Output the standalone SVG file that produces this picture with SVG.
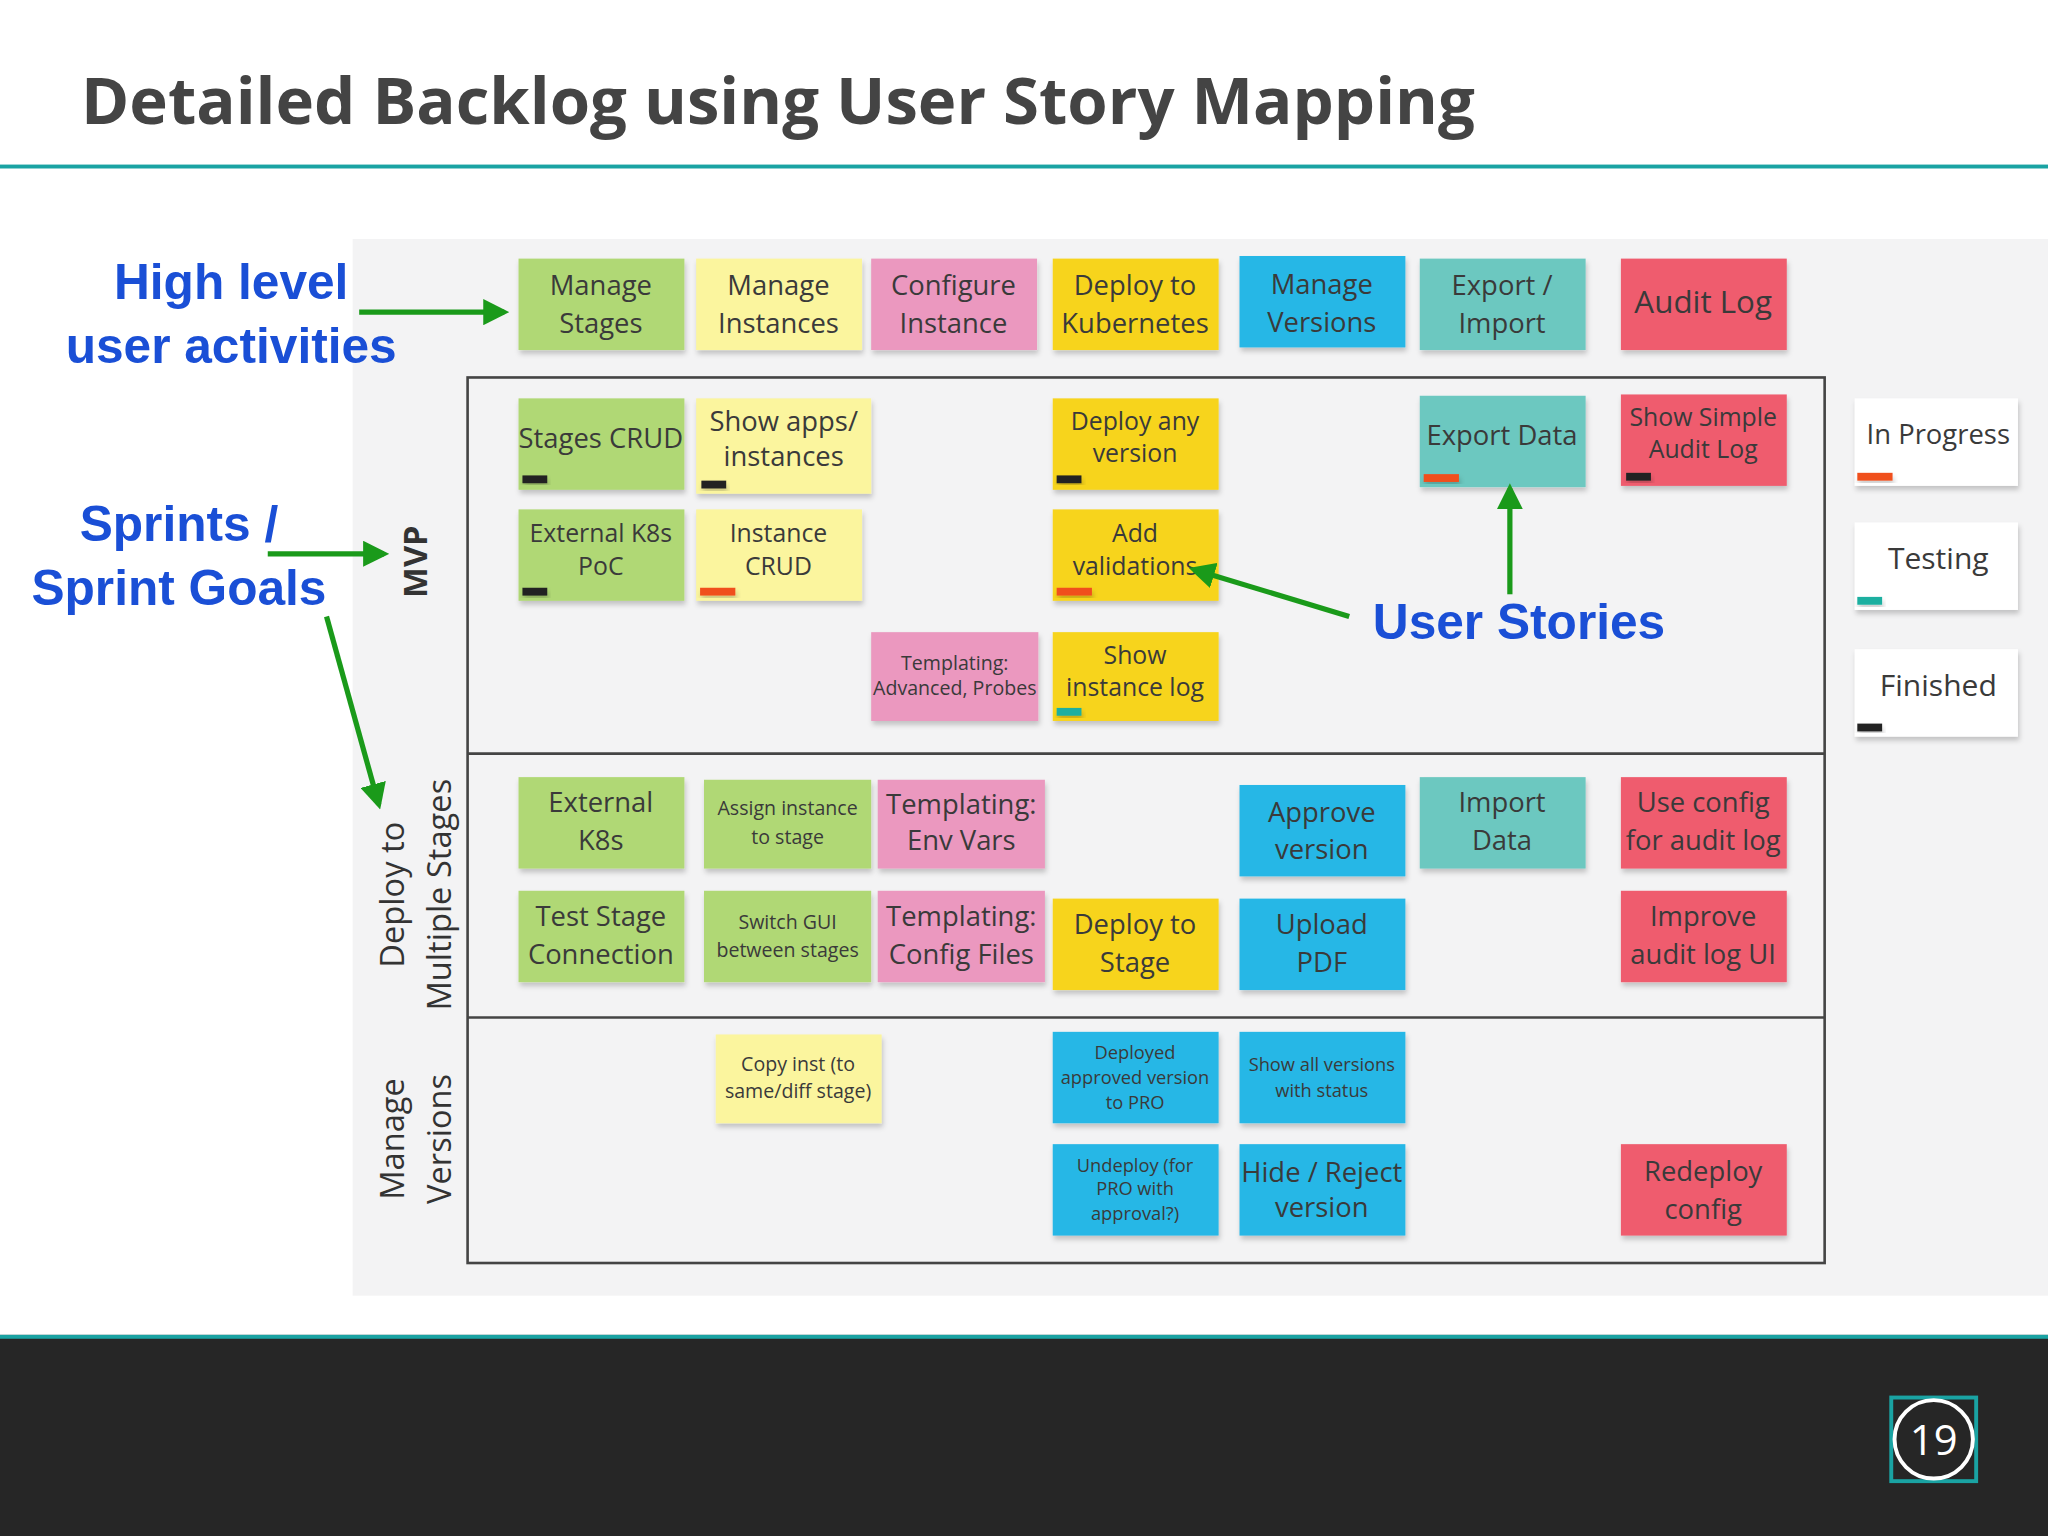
<svg xmlns="http://www.w3.org/2000/svg" width="2048" height="1536" viewBox="0 0 2048 1536">
<style>
.n text{font-family:"Open Sans","Noto Sans",sans-serif;font-size:21px;fill:#3a3a3a;text-anchor:middle}
.n text.s{font-size:15px}
.n rect{filter:url(#sh)}
.g{fill:#b0d874}.ly{fill:#fbf59e}.p{fill:#eb98bf}.y{fill:#f7d41a}.b{fill:#27b7e6}.t{fill:#6cc8c0}.r{fill:#ef5c6e}.w{fill:#fff}
.ann{font-family:"Liberation Sans",Arial,sans-serif;font-weight:bold;font-size:38px;fill:#1a4fd6;text-anchor:middle}
.lane{font-family:"Open Sans","Noto Sans",sans-serif;font-size:25px;fill:#333;text-anchor:middle}
.arr{stroke:#1a9a1a;stroke-width:4;fill:none;marker-end:url(#ah)}
</style>
<defs>
<filter id="sh" x="-10%" y="-10%" width="125%" height="130%"><feDropShadow dx="1" dy="3" stdDeviation="2" flood-color="#000" flood-opacity="0.2"/></filter>
<marker id="ah" viewBox="0 0 10 10" refX="8" refY="5" markerWidth="5" markerHeight="5" orient="auto"><path d="M0,0L10,5L0,10z" fill="#1a9a1a"/></marker>
</defs>
<rect width="2048" height="1536" fill="#fff"/>
<g transform="scale(1.30612)">
<text x="62" y="95" font-family="'Open Sans','Noto Sans',sans-serif" font-weight="bold" font-size="50" fill="#444">Detailed Backlog using User Story Mapping</text>
<rect x="0" y="126" width="1568" height="3" fill="#1aa3a3"/>
<rect x="270" y="183" width="1298" height="809" fill="#f3f3f4"/>
<rect x="0" y="1022" width="1568" height="154" fill="#262626"/>
<rect x="0" y="1022" width="1568" height="3" fill="#1aa3a3"/>
<rect x="1448" y="1070" width="65" height="64" fill="none" stroke="#1aa3a3" stroke-width="3"/>
<circle cx="1480.5" cy="1102" r="30" fill="none" stroke="#fff" stroke-width="3"/>
<text x="1480.5" y="1114" font-family="'Open Sans',sans-serif" font-size="32" fill="#fff" text-anchor="middle">19</text>

<g id="frame" fill="none" stroke="#444" stroke-width="2">
<rect x="358" y="289" width="1039" height="678"/>
<line x1="358" y1="577" x2="1397" y2="577"/>
<line x1="358" y1="779" x2="1397" y2="779"/>
</g>
<text class="lane" transform="translate(327,430) rotate(-90)" font-weight="bold" font-size="26">MVP</text>
<text class="lane" transform="translate(309,685) rotate(-90)">Deploy to</text>
<text class="lane" transform="translate(345,685) rotate(-90)">Multiple Stages</text>
<text class="lane" transform="translate(309,872) rotate(-90)">Manage</text>
<text class="lane" transform="translate(345,872) rotate(-90)">Versions</text>

<g class="n">
<g id="a1"><rect class="g" x="397" y="198" width="127" height="70"/><text x="460" y="226">Manage</text><text x="460" y="255">Stages</text></g>
<g id="a2"><rect class="ly" x="533" y="198" width="127" height="70"/><text x="596" y="226">Manage</text><text x="596" y="255">Instances</text></g>
<g id="a3"><rect class="p" x="667" y="198" width="127" height="70"/><text x="730" y="226">Configure</text><text x="730" y="255">Instance</text></g>
<g id="a4"><rect class="y" x="806" y="198" width="127" height="70"/><text x="869" y="226">Deploy to</text><text x="869" y="255">Kubernetes</text></g>
<g id="a5"><rect class="b" x="949" y="196" width="127" height="70"/><text x="1012" y="225">Manage</text><text x="1012" y="254">Versions</text></g>
<g id="a6"><rect class="t" x="1087" y="198" width="127" height="70"/><text x="1150" y="226">Export /</text><text x="1150" y="255">Import</text></g>
<g id="a7"><rect class="r" x="1241" y="198" width="127" height="70"/><text x="1304" y="240" style="font-size:24px">Audit Log</text></g>

<g id="m1"><rect class="g" x="397" y="305" width="127" height="70"/><text x="460" y="343">Stages CRUD</text><rect x="400" y="364" width="19" height="6" fill="#222"/></g>
<g id="m2"><rect class="ly" x="533" y="305" width="134" height="73"/><text x="600" y="330">Show apps/</text><text x="600" y="357">instances</text><rect x="537" y="368" width="19" height="6" fill="#222"/></g>
<g id="m3"><rect class="y" x="806" y="305" width="127" height="70"/><text x="869" y="329" style="font-size:19px">Deploy any</text><text x="869" y="354" style="font-size:19px">version</text><rect x="809" y="364" width="19" height="6" fill="#222"/></g>
<g id="m4"><rect class="t" x="1087" y="303" width="127" height="70"/><text x="1150" y="341">Export Data</text><rect x="1090" y="363" width="27" height="6" fill="#f0501e"/></g>
<g id="m5"><rect class="r" x="1241" y="302" width="127" height="70"/><text x="1304" y="326" style="font-size:19px">Show Simple</text><text x="1304" y="351" style="font-size:19px">Audit Log</text><rect x="1245" y="362" width="19" height="6" fill="#222"/></g>
<g id="m6"><rect class="g" x="397" y="390" width="127" height="70"/><text x="460" y="415" style="font-size:19px">External K8s</text><text x="460" y="440" style="font-size:19px">PoC</text><rect x="400" y="450" width="19" height="6" fill="#222"/></g>
<g id="m7"><rect class="ly" x="533" y="390" width="127" height="70"/><text x="596" y="415" style="font-size:19px">Instance</text><text x="596" y="440" style="font-size:19px">CRUD</text><rect x="536" y="450" width="27" height="6" fill="#f0501e"/></g>
<g id="m8"><rect class="y" x="806" y="390" width="127" height="70"/><text x="869" y="415" style="font-size:19px">Add</text><text x="869" y="440" style="font-size:19px">validations</text><rect x="809" y="450" width="27" height="6" fill="#f0501e"/></g>
<g id="m9"><rect class="p" x="667" y="484" width="128" height="68"/><text class="s" x="731" y="513">Templating:</text><text class="s" x="731" y="532">Advanced, Probes</text></g>
<g id="m10"><rect class="y" x="806" y="484" width="127" height="68"/><text x="869" y="508" style="font-size:19px">Show</text><text x="869" y="533" style="font-size:19px">instance log</text><rect x="809" y="542" width="19" height="6" fill="#1aafa0"/></g>

<g id="d1"><rect class="g" x="397" y="595" width="127" height="70"/><text x="460" y="622">External</text><text x="460" y="651">K8s</text></g>
<g id="d2"><rect class="ly" x="539" y="597" width="128" height="68" style="fill:#b0d874"/><text class="s" x="603" y="624">Assign instance</text><text class="s" x="603" y="646">to stage</text></g>
<g id="d3"><rect class="p" x="672" y="597" width="128" height="68"/><text x="736" y="623">Templating:</text><text x="736" y="651">Env Vars</text></g>
<g id="d4"><rect class="b" x="949" y="601" width="127" height="70"/><text x="1012" y="629">Approve</text><text x="1012" y="658">version</text></g>
<g id="d5"><rect class="t" x="1087" y="595" width="127" height="70"/><text x="1150" y="622">Import</text><text x="1150" y="651">Data</text></g>
<g id="d6"><rect class="r" x="1241" y="595" width="127" height="70"/><text x="1304" y="622">Use config</text><text x="1304" y="651">for audit log</text></g>
<g id="d7"><rect class="g" x="397" y="682" width="127" height="70"/><text x="460" y="709">Test Stage</text><text x="460" y="738">Connection</text></g>
<g id="d8"><rect class="g" x="539" y="682" width="128" height="70"/><text class="s" x="603" y="711">Switch GUI</text><text class="s" x="603" y="733">between stages</text></g>
<g id="d9"><rect class="p" x="672" y="682" width="128" height="70"/><text x="736" y="709">Templating:</text><text x="736" y="738">Config Files</text></g>
<g id="d10"><rect class="y" x="806" y="688" width="127" height="70"/><text x="869" y="715">Deploy to</text><text x="869" y="744">Stage</text></g>
<g id="d11"><rect class="b" x="949" y="688" width="127" height="70"/><text x="1012" y="715">Upload</text><text x="1012" y="744">PDF</text></g>
<g id="d12"><rect class="r" x="1241" y="682" width="127" height="70"/><text x="1304" y="709">Improve</text><text x="1304" y="738">audit log UI</text></g>

<g id="v1"><rect class="ly" x="548" y="792" width="127" height="68"/><text class="s" x="611" y="820">Copy inst (to</text><text class="s" x="611" y="841">same/diff stage)</text></g>
<g id="v2"><rect class="b" x="806" y="790" width="127" height="70"/><text class="s" x="869" y="811" style="font-size:14px">Deployed</text><text class="s" x="869" y="830" style="font-size:14px">approved version</text><text class="s" x="869" y="849" style="font-size:14px">to PRO</text></g>
<g id="v3"><rect class="b" x="949" y="790" width="127" height="70"/><text class="s" x="1012" y="820" style="font-size:14px">Show all versions</text><text class="s" x="1012" y="840" style="font-size:14px">with status</text></g>
<g id="v4"><rect class="b" x="806" y="876" width="127" height="70"/><text class="s" x="869" y="897" style="font-size:14px">Undeploy (for</text><text class="s" x="869" y="915" style="font-size:14px">PRO with</text><text class="s" x="869" y="934" style="font-size:14px">approval?)</text></g>
<g id="v5"><rect class="b" x="949" y="876" width="127" height="70"/><text x="1012" y="905">Hide / Reject</text><text x="1012" y="932">version</text></g>
<g id="v6"><rect class="r" x="1241" y="876" width="127" height="70"/><text x="1304" y="904">Redeploy</text><text x="1304" y="933">config</text></g>

<g id="l1"><rect class="w" x="1420" y="305" width="125" height="67"/><text x="1484" y="340">In Progress</text><rect x="1422" y="362" width="27" height="6" fill="#f0501e"/></g>
<g id="l2"><rect class="w" x="1420" y="400" width="125" height="67"/><text x="1484" y="436" style="font-size:23px">Testing</text><rect x="1422" y="457" width="19" height="6" fill="#1aafa0"/></g>
<g id="l3"><rect class="w" x="1420" y="497" width="125" height="67"/><text x="1484" y="533" style="font-size:23px">Finished</text><rect x="1422" y="554" width="19" height="6" fill="#222"/></g>
</g>

<g id="annotations">
<text class="ann" x="177" y="229">High level</text>
<text class="ann" x="177" y="278">user activities</text>
<text class="ann" x="137" y="414">Sprints /</text>
<text class="ann" x="137" y="463">Sprint Goals</text>
<text class="ann" x="1163" y="489" style="text-anchor:middle">User Stories</text>
</g>
<g id="connectors">
<line class="arr" x1="275" y1="239" x2="386" y2="239"/>
<line class="arr" x1="205" y1="424" x2="294" y2="424"/>
<line class="arr" x1="250" y1="472" x2="290" y2="616"/>
<line class="arr" x1="1033" y1="472" x2="914" y2="436"/>
<line class="arr" x1="1156" y1="455" x2="1156" y2="374"/>
</g>
</g>
</svg>
